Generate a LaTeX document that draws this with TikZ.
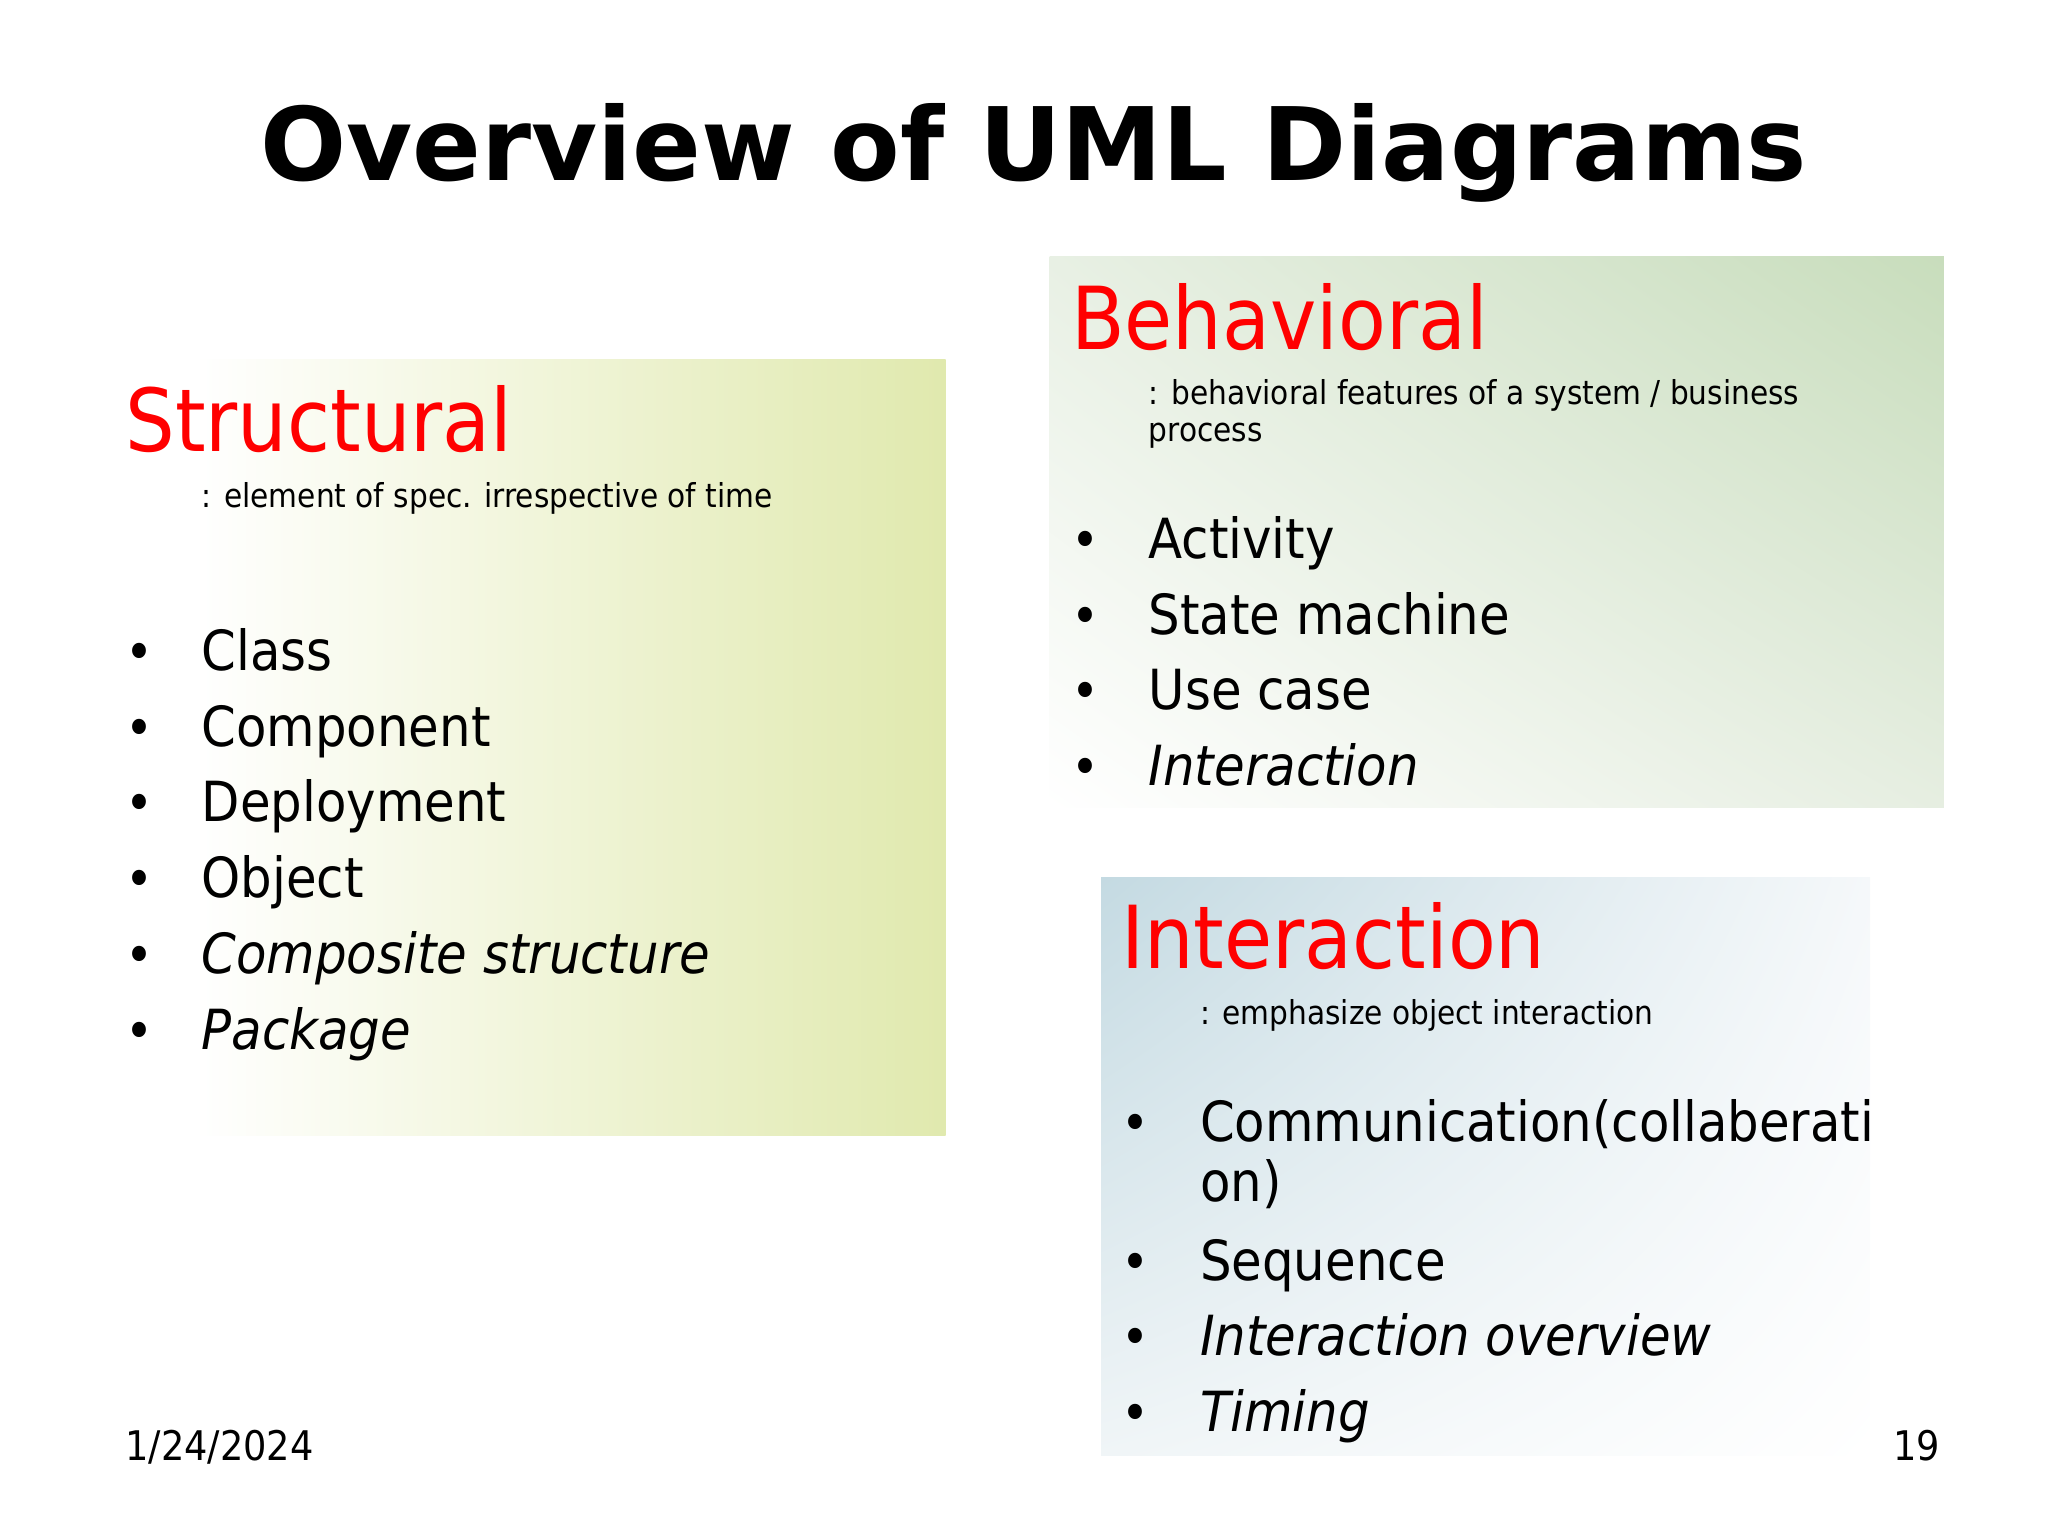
\documentclass[tikz,border=0pt]{standalone}
\usepackage{fontspec}
\usetikzlibrary{shadings}
\setmainfont{DejaVu Sans Condensed}
\newfontfamily\titlefont{DejaVu Sans}
\begin{document}
\begin{tikzpicture}[x=1pt,y=-1pt,
  head/.style={anchor=base west,inner sep=0,text=red,font=\fontsize{66}{66}\selectfont},
  sub/.style={anchor=base west,inner sep=0,font=\fontsize{25}{28}\selectfont,align=left},
  itm/.style={anchor=base west,inner sep=0,font=\fontsize{42}{45}\selectfont,align=left},
  bul/.style={anchor=base west,inner sep=0,font=\fontsize{40}{44}\selectfont}]
\useasboundingbox (0,0) rectangle (1555,1166);
\fill[left color=white,right color={rgb,255:red,224;green,233;blue,174}] (148,273) rectangle (718,862);
\shade[lower left=white,upper right={rgb,255:red,200;green,221;blue,188},lower right={rgb,255:red,230;green,238;blue,225},upper left={rgb,255:red,232;green,240;blue,228}] (797,195) rectangle (1476,613);
\shade[upper left={rgb,255:red,196;green,218;blue,226},lower left={rgb,255:red,240;green,245;blue,247},upper right={rgb,255:red,245;green,248;blue,250},lower right=white] (836,666) rectangle (1420,1105);
\node[anchor=base,inner sep=0,font=\titlefont\bfseries\fontsize{77}{77}\selectfont] (title) at (785,137) {Overview of UML Diagrams};
\node[head] (s) at (95,343) {Structural};
\node[sub] (ss) at (153,385) {: element of spec. irrespective of time};
\foreach \t [count=\i] in {Class,Component,Deployment,Object,\textit{Composite structure},\textit{Package}}{
  \node[bul] (sb\i) at (95,{509+(\i-1)*57.5}) {•};
  \node[itm] (si\i) at (153,{509+(\i-1)*57.5}) {\t};}
\node[head] (b) at (813,265) {Behavioral};
\node[sub] (bs) at (872,335) {: behavioral features of a system / business\\process};
\foreach \t [count=\i] in {Activity,State machine,Use case,\textit{Interaction}}{
  \node[bul] (bb\i) at (813,{424+(\i-1)*57.5}) {•};
  \node[itm] (bi\i) at (872,{424+(\i-1)*57.5}) {\t};}
\node[head] (n) at (851,735) {Interaction};
\node[sub] (ns) at (911,778) {: emphasize object interaction};
\node[bul] (nb1) at (851,867) {•};
\node[itm] (ni1) at (911,912) {Communication(collaberati\\on)};
\foreach \t [count=\i] in {Sequence,\textit{Interaction overview},\textit{Timing}}{
  \node[bul] (nb\i x) at (851,{972+(\i-1)*57.5}) {•};
  \node[itm] (ni\i x) at (911,{972+(\i-1)*57.5}) {\t};}
\node[anchor=base west,inner sep=0,font=\fontsize{31}{31}\selectfont] (date) at (95,1109) {1/24/2024};
\node[anchor=base east,inner sep=0,font=\fontsize{31}{31}\selectfont] (pg) at (1473,1109) {19};
\end{tikzpicture}
\end{document}
